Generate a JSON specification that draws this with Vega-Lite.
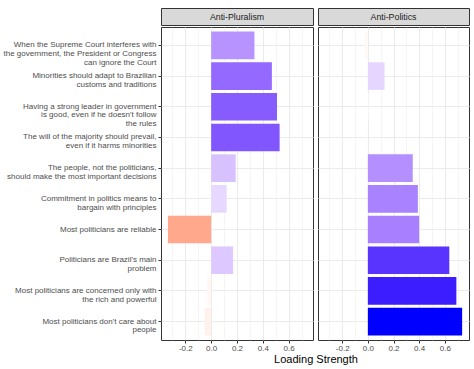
{
  "$schema": "https://vega.github.io/schema/vega-lite/v6.json",
  "background": "white",
  "padding": {"left": 2, "top": 7, "right": 5, "bottom": 2},
  "title": {"text": "Loading Strength", "orient": "bottom", "anchor": "middle", "dx": 80, "offset": 1, "fontSize": 11, "fontWeight": "normal", "color": "#000000"},
  "config": {
    "font": "Liberation Sans",
    "view": {"stroke": "#333333", "strokeWidth": 1}
  },
  "data": {
    "values": [
      {"factor": "Anti-Pluralism", "item": "When the Supreme Court interferes with\nthe government, the President or Congress\ncan ignore the Court", "loading": 0.335},
      {"factor": "Anti-Pluralism", "item": "Minorities should adapt to Brazilian\ncustoms and traditions", "loading": 0.47},
      {"factor": "Anti-Pluralism", "item": "Having a strong leader in government\nis good, even if he doesn't follow\nthe rules", "loading": 0.51},
      {"factor": "Anti-Pluralism", "item": "The will of the majority should prevail,\neven if it harms minorities", "loading": 0.53},
      {"factor": "Anti-Pluralism", "item": "The people, not the politicians,\nshould make the most important decisions", "loading": 0.19},
      {"factor": "Anti-Pluralism", "item": "Commitment in politics means to\nbargain with principles", "loading": 0.12},
      {"factor": "Anti-Pluralism", "item": "Most politicians are reliable", "loading": -0.335},
      {"factor": "Anti-Pluralism", "item": "Politicians are Brazil's main\nproblem", "loading": 0.17},
      {"factor": "Anti-Pluralism", "item": "Most politicians are concerned only with\nthe rich and powerful", "loading": -0.03},
      {"factor": "Anti-Pluralism", "item": "Most politicians don't care about\npeople", "loading": -0.05},
      {"factor": "Anti-Politics", "item": "When the Supreme Court interferes with\nthe government, the President or Congress\ncan ignore the Court", "loading": -0.025},
      {"factor": "Anti-Politics", "item": "Minorities should adapt to Brazilian\ncustoms and traditions", "loading": 0.13},
      {"factor": "Anti-Politics", "item": "Having a strong leader in government\nis good, even if he doesn't follow\nthe rules", "loading": 0.005},
      {"factor": "Anti-Politics", "item": "The will of the majority should prevail,\neven if it harms minorities", "loading": -0.005},
      {"factor": "Anti-Politics", "item": "The people, not the politicians,\nshould make the most important decisions", "loading": 0.35},
      {"factor": "Anti-Politics", "item": "Commitment in politics means to\nbargain with principles", "loading": 0.39},
      {"factor": "Anti-Politics", "item": "Most politicians are reliable", "loading": 0.4},
      {"factor": "Anti-Politics", "item": "Politicians are Brazil's main\nproblem", "loading": 0.635},
      {"factor": "Anti-Politics", "item": "Most politicians are concerned only with\nthe rich and powerful", "loading": 0.69},
      {"factor": "Anti-Politics", "item": "Most politicians don't care about\npeople", "loading": 0.735}
    ]
  },
  "hconcat": [
    {
      "spacing": 0,
      "vconcat": [
        {
          "width": 152,
          "height": 17,
          "view": {"fill": "#d9d9d9", "stroke": "#333333"},
          "transform": [
            {"filter": "datum.factor === 'Anti-Pluralism'"},
            {"aggregate": [{"op": "count", "as": "n"}], "groupby": ["factor"]}
          ],
          "mark": {"type": "text", "fontSize": 8.8, "color": "#1a1a1a"},
          "encoding": {"text": {"field": "factor"}}
        },
        {
          "width": 152,
          "height": 313,
          "transform": [{"filter": "datum.factor === 'Anti-Pluralism'"}],
          "mark": {"type": "bar"},
          "encoding": {
            "y": {
              "field": "item", "type": "nominal",
              "sort": [
                "When the Supreme Court interferes with\nthe government, the President or Congress\ncan ignore the Court",
                "Minorities should adapt to Brazilian\ncustoms and traditions",
                "Having a strong leader in government\nis good, even if he doesn't follow\nthe rules",
                "The will of the majority should prevail,\neven if it harms minorities",
                "The people, not the politicians,\nshould make the most important decisions",
                "Commitment in politics means to\nbargain with principles",
                "Most politicians are reliable",
                "Politicians are Brazil's main\nproblem",
                "Most politicians are concerned only with\nthe rich and powerful",
                "Most politicians don't care about\npeople"
              ],
              "scale": {"paddingInner": 0.1, "paddingOuter": 0.15},
              "axis": {
                "title": null,
                "labelExpr": "split(datum.label, '\\n')",
                "labelFontSize": 8,
                "labelColor": "#4d4d4d",
                "labelLineHeight": 8.7,
                "labelLimit": 300,
                "labelPadding": 2,
                "tickSize": 3,
                "tickColor": "#333333",
                "domain": false,
                "grid": true,
                "gridColor": "#ebebeb",
                "bandPosition": 0.5
              }
            },
            "x": {
              "field": "loading", "type": "quantitative",
              "scale": {"domain": [-0.3885, 0.7885], "nice": false},
              "axis": {
                "title": null,
                "values": [-0.3, -0.2, -0.1, 0, 0.1, 0.2, 0.3, 0.4, 0.5, 0.6, 0.7],
                "labelExpr": "round(datum.value*10) % 2 != 0 ? '' : (datum.value == 0 ? '0.0' : replace(format(datum.value, '.1f'), '\u2212', '-'))",
                "labelFontSize": 8,
                "labelColor": "#4d4d4d",
                "labelFlush": false,
                "labelOverlap": false,
                "labelPadding": 1,
                "tickSize": 3,
                "tickColor": "#333333",
                "tickOpacity": {"condition": {"test": "round(datum.value*10) % 2 != 0", "value": 0}, "value": 1},
                "domain": false,
                "grid": true,
                "gridColor": "#ebebeb",
                "gridWidth": {"condition": {"test": "round(datum.value*10) % 2 != 0", "value": 0.5}, "value": 1}
              }
            },
            "x2": {"datum": 0},
            "color": {
              "field": "loading", "type": "quantitative",
              "scale": {"domain": [-0.735, 0, 0.735], "range": ["red", "white", "blue"], "interpolate": "lab"},
              "legend": null
            }
          }
        }
      ]
    },
    {
      "spacing": 0,
      "vconcat": [
        {
          "width": 151,
          "height": 17,
          "view": {"fill": "#d9d9d9", "stroke": "#333333"},
          "transform": [
            {"filter": "datum.factor === 'Anti-Politics'"},
            {"aggregate": [{"op": "count", "as": "n"}], "groupby": ["factor"]}
          ],
          "mark": {"type": "text", "fontSize": 8.8, "color": "#1a1a1a"},
          "encoding": {"text": {"field": "factor"}}
        },
        {
          "width": 151,
          "height": 313,
          "transform": [{"filter": "datum.factor === 'Anti-Politics'"}],
          "mark": {"type": "bar"},
          "encoding": {
            "y": {
              "field": "item", "type": "nominal",
              "sort": [
                "When the Supreme Court interferes with\nthe government, the President or Congress\ncan ignore the Court",
                "Minorities should adapt to Brazilian\ncustoms and traditions",
                "Having a strong leader in government\nis good, even if he doesn't follow\nthe rules",
                "The will of the majority should prevail,\neven if it harms minorities",
                "The people, not the politicians,\nshould make the most important decisions",
                "Commitment in politics means to\nbargain with principles",
                "Most politicians are reliable",
                "Politicians are Brazil's main\nproblem",
                "Most politicians are concerned only with\nthe rich and powerful",
                "Most politicians don't care about\npeople"
              ],
              "scale": {"paddingInner": 0.1, "paddingOuter": 0.15},
              "axis": {
                "title": null,
                "labels": false,
                "ticks": false,
                "domain": false,
                "grid": true,
                "gridColor": "#ebebeb",
                "bandPosition": 0.5
              }
            },
            "x": {
              "field": "loading", "type": "quantitative",
              "scale": {"domain": [-0.3885, 0.7885], "nice": false},
              "axis": {
                "title": null,
                "values": [-0.3, -0.2, -0.1, 0, 0.1, 0.2, 0.3, 0.4, 0.5, 0.6, 0.7],
                "labelExpr": "round(datum.value*10) % 2 != 0 ? '' : (datum.value == 0 ? '0.0' : replace(format(datum.value, '.1f'), '\u2212', '-'))",
                "labelFontSize": 8,
                "labelColor": "#4d4d4d",
                "labelFlush": false,
                "labelOverlap": false,
                "labelPadding": 1,
                "tickSize": 3,
                "tickColor": "#333333",
                "tickOpacity": {"condition": {"test": "round(datum.value*10) % 2 != 0", "value": 0}, "value": 1},
                "domain": false,
                "grid": true,
                "gridColor": "#ebebeb",
                "gridWidth": {"condition": {"test": "round(datum.value*10) % 2 != 0", "value": 0.5}, "value": 1}
              }
            },
            "x2": {"datum": 0},
            "color": {
              "field": "loading", "type": "quantitative",
              "scale": {"domain": [-0.735, 0, 0.735], "range": ["red", "white", "blue"], "interpolate": "lab"},
              "legend": null
            }
          }
        }
      ]
    }
  ],
  "spacing": 3
}
